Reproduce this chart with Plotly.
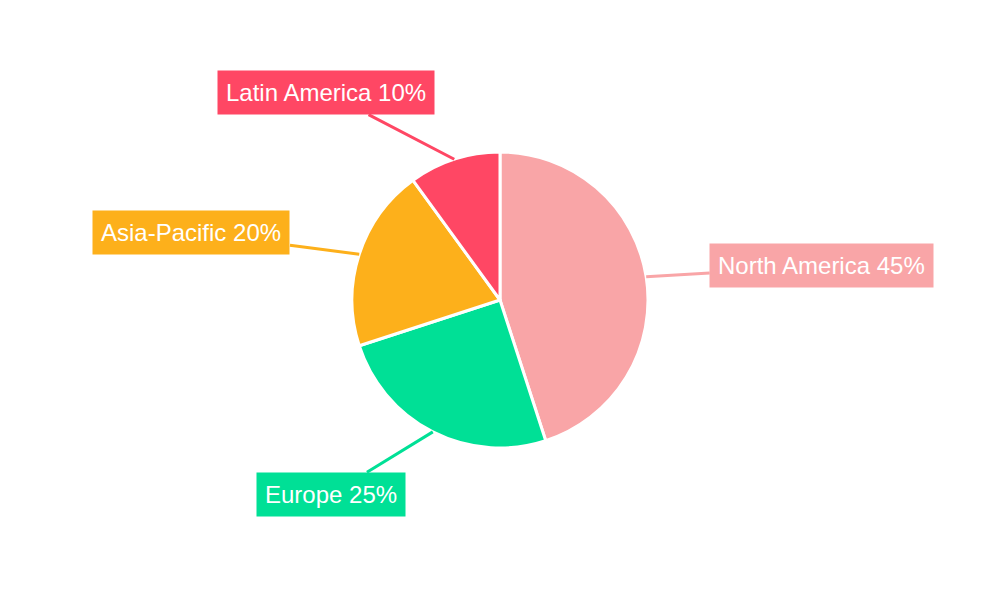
import math
import plotly.graph_objects as go

labels = ["North America", "Europe", "Asia-Pacific", "Latin America"]
values = [45, 25, 20, 10]
colors = ["#f9a5a7", "#00e096", "#fdb01b", "#ff4764"]

W, H = 1000, 600
R = 148
CX, CY = 492, 292  # page has an 8px body margin
fig = go.Figure(go.Pie(
    labels=labels, values=values, sort=False, direction="clockwise", rotation=0,
    marker=dict(colors=colors, line=dict(color="white", width=3)),
    textinfo="none", hoverinfo="label+percent", showlegend=False,
    domain=dict(x=[(CX - H / 2) / W, (CX + H / 2) / W],
                y=[(H - CY) / H - R / H, (H - CY) / H + R / H]),
))

total = sum(values)
cum = 0
anns = []
for lab, v, c in zip(labels, values, colors):
    mid = (cum + v / 2) / total * 2 * math.pi
    cum += v
    dx, dy = math.sin(mid), -math.cos(mid)
    ex, ey = CX + dx * R, CY + dy * R
    text = f"{lab} {round(v / total * 100)}%"
    half = len(text) * 5.2 + 8
    side = 1 if dx >= 0 else -1
    L1 = 70
    ax = dx * L1 + side * (10 + half)
    ay = dy * L1
    anns.append(dict(
        x=ex / W, y=1 - ey / H, xref="paper", yref="paper",
        ax=ax, ay=ay, text=text, showarrow=True, arrowhead=0, arrowwidth=3,
        arrowcolor=c, bgcolor=c, borderpad=8, standoff=0,
        font=dict(family="Liberation Sans, Arial", size=24, color="white"),
    ))

fig.update_layout(width=W, height=H, margin=dict(l=0, r=0, t=0, b=0),
                  paper_bgcolor="white", annotations=anns)
fig.write_html("out.html")
